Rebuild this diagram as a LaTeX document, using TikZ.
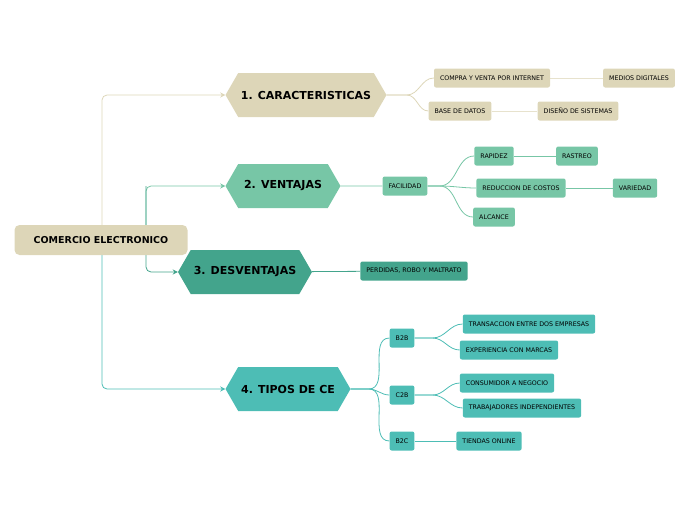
\documentclass[tikz,border=0pt]{standalone}
\usepackage{fontspec}
\setmainfont{DejaVu Sans}
\usetikzlibrary{shapes.symbols,backgrounds,arrows.meta}
\definecolor{beige}{HTML}{DDD6B8}
\definecolor{lgreen}{HTML}{77C6A6}
\definecolor{dteal}{HTML}{43A48C}
\definecolor{teal}{HTML}{4DBDB5}
\begin{document}
\begin{tikzpicture}[x=1pt,y=-1pt,
  hexa/.style={shape=signal, signal to=west and east, signal pointer angle=120, fill=#1, draw=none, minimum height=44pt, font=\fontsize{11}{13}\selectfont\bfseries, inner xsep=2pt},
  small/.style={rounded corners=2pt, fill=#1, minimum height=19pt, font=\fontsize{6.3}{8}\selectfont, inner xsep=6pt},
  con/.style={draw=#1, line width=0.8pt},
  arr/.style={con=#1, -{Stealth[length=5pt,width=5pt]}, rounded corners=5pt}]
\useasboundingbox (0,0) rectangle (696,520);
\node[rounded corners=5pt, fill=beige, minimum width=173pt, minimum height=30pt, font=\fontsize{9.5}{11}\selectfont\bfseries] (root) at (101,240) {COMERCIO ELECTRONICO};
\node[hexa=beige, minimum width=161pt] (car) at (306,95) {1. CARACTERISTICAS};
\node[hexa=lgreen, minimum width=115pt] (ven) at (283,186) {2. VENTAJAS};
\node[hexa=dteal, minimum width=134pt] (des) at (245,272) {3. DESVENTAJAS};
\node[hexa=teal, minimum width=125pt] (tip) at (288,389) {4. TIPOS DE CE};

\node[small=beige] (c1) at (492,78) {COMPRA Y VENTA POR INTERNET};
\node[small=beige] (c2) at (639,78) {MEDIOS DIGITALES};
\node[small=beige] (c3) at (460,111) {BASE DE DATOS};
\node[small=beige] (c4) at (578,111) {DISEÑO DE SISTEMAS};

\node[small=lgreen] (f) at (405,186) {FACILIDAD};
\node[small=lgreen] (v1) at (494,156) {RAPIDEZ};
\node[small=lgreen] (v2) at (577,156) {RASTREO};
\node[small=lgreen] (v3) at (521,188) {REDUCCION DE COSTOS};
\node[small=lgreen] (v4) at (635,188) {VARIEDAD};
\node[small=lgreen] (v5) at (494,217) {ALCANCE};

\node[small=dteal] (p) at (414,271) {PERDIDAS, ROBO Y MALTRATO};

\node[small=teal] (b2b) at (402,338) {B2B};
\node[small=teal] (c2b) at (402,395) {C2B};
\node[small=teal] (b2c) at (402,441) {B2C};
\node[small=teal] (t1) at (529,324) {TRANSACCION ENTRE DOS EMPRESAS};
\node[small=teal] (t2) at (509,350) {EXPERIENCIA CON MARCAS};
\node[small=teal] (t3) at (507,383) {CONSUMIDOR A NEGOCIO};
\node[small=teal] (t4) at (522,408) {TRABAJADORES INDEPENDIENTES};
\node[small=teal] (t5) at (489,441) {TIENDAS ONLINE};

\begin{scope}[on background layer]
\draw[arr=beige] (102,240) |- (car.west);
\draw[arr=lgreen] (146,240) |- (ven.west);
\draw[arr=dteal] (146,186) |- (des.west);
\draw[arr=teal] (102,240) |- (tip.west);
\draw[con=beige] (car.east) -- ++(20,0) to[out=0,in=180] (c1.west);
\draw[con=beige] (car.east) -- ++(20,0) to[out=0,in=180] (c3.west);
\draw[con=beige!70] (c1) -- (c2);
\draw[con=beige!70] (c3) -- (c4);
\draw[con=lgreen] (ven) -- (f);
\draw[con=lgreen] (f.east) -- ++(12,0) to[out=0,in=180] (v1.west);
\draw[con=lgreen] (f.east) -- ++(12,0) to[out=0,in=180] (v3.west);
\draw[con=lgreen] (f.east) -- ++(12,0) to[out=0,in=180] (v5.west);
\draw[con=lgreen] (v1) -- (v2);
\draw[con=lgreen] (v3) -- (v4);
\draw[con=dteal] (des) -- (p);
\draw[con=teal] (tip.east) -- ++(18,0) to[out=0,in=180] (b2b.west);
\draw[con=teal] (tip.east) -- ++(18,0) to[out=0,in=180] (c2b.west);
\draw[con=teal] (tip.east) -- ++(18,0) to[out=0,in=180] (b2c.west);
\draw[con=teal] (b2b.east) -- ++(18,0) to[out=0,in=180] (t1.west);
\draw[con=teal] (b2b.east) -- ++(18,0) to[out=0,in=180] (t2.west);
\draw[con=teal] (c2b.east) -- ++(18,0) to[out=0,in=180] (t3.west);
\draw[con=teal] (c2b.east) -- ++(18,0) to[out=0,in=180] (t4.west);
\draw[con=teal] (b2c) -- (t5);
\end{scope}
\end{tikzpicture}
\end{document}
